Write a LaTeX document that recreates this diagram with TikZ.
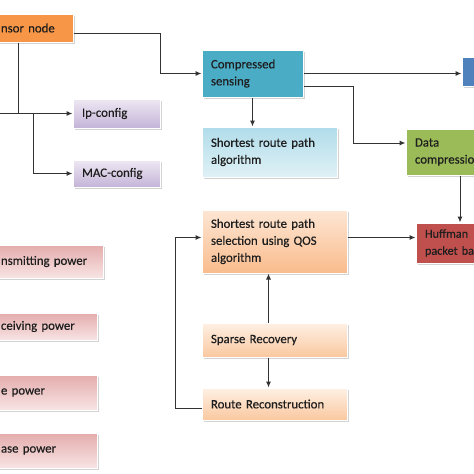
\documentclass[tikz,border=0pt]{standalone}
\usepackage{fontspec}
\setmainfont{Carlito}[FakeBold=0.4]
\usetikzlibrary{arrows.meta,shadows,calc}
\definecolor{txt}{HTML}{1E1E1E}
\definecolor{lnc}{HTML}{333333}
\definecolor{orng}{HTML}{F79646}
\definecolor{teal}{HTML}{4BACC6}
\definecolor{blu}{HTML}{4F81BD}
\definecolor{grn}{HTML}{9BBB59}
\definecolor{redd}{HTML}{C0504D}
\tikzset{
  box/.style={rectangle, inner xsep=9pt, inner ysep=2pt, align=left,
    font=\fontsize{12.8}{17}\selectfont, text=txt, draw=white, line width=1pt,
    drop shadow={shadow xshift=1.5pt, shadow yshift=-1.5pt, opacity=0.35, fill=gray}},
  bx/.style n args={3}{box, minimum width=#1pt, text width=#1pt-18pt, minimum height=#2pt, #3},
  conn/.style={draw=lnc, line width=1pt},
  arr/.style={conn, -{Latex[length=6pt,width=5pt]}},
}
\begin{document}
\begin{tikzpicture}[x=1pt,y=-1pt]
\useasboundingbox (0,0) rectangle (474,474);
% boxes
\node[bx={81}{28}{fill=orng}] (sensor) at (32.5,28) {nsor node};
\node[bx={101}{47}{fill=teal}] (cs) at (252.5,73.5) {Compressed\\sensing};
\node[bx={38}{29}{fill=blu}] (blue) at (481,71.5) {};
\node[bx={135}{50}{top color={rgb,255:red,176;green,220;blue,234}, bottom color={rgb,255:red,224;green,241;blue,246}}] (sp) at (269.5,152) {Shortest route path\\algorithm};
\node[bx={87}{29}{top color={rgb,255:red,238;green,232;blue,243}, bottom color={rgb,255:red,196;green,180;blue,216}}] (ip) at (116.5,113.5) {Ip-config};
\node[bx={87}{27}{top color={rgb,255:red,238;green,232;blue,243}, bottom color={rgb,255:red,196;green,180;blue,216}}] (mac) at (116.5,173.5) {MAC-config};
\node[bx={94}{46}{fill=grn}] (dc) at (453,152) {Data\\compressio};
\node[bx={84}{40}{fill=redd, inner xsep=7pt, font=\fontsize{12.2}{17}\selectfont}] (hf) at (458,243) {Huffman\\packet ba};
\node[bx={145}{63}{top color={rgb,255:red,253;green,230;blue,212}, bottom color={rgb,255:red,249;green,188;blue,140}}] (qos) at (274.5,241.5) {Shortest route path\\selection using QOS\\algorithm};
\node[bx={145}{34}{top color={rgb,255:red,254;green,240;blue,228}, bottom color={rgb,255:red,250;green,200;blue,160}}] (sr) at (274.5,340) {Sparse Recovery};
\node[bx={145}{32}{top color={rgb,255:red,254;green,240;blue,228}, bottom color={rgb,255:red,250;green,200;blue,160}}] (rr) at (274.5,404) {Route Reconstruction};
\node[bx={111}{33}{top color={rgb,255:red,228;green,172;blue,172}, bottom color={rgb,255:red,248;green,228;blue,228}}] (p1) at (47.5,261.5) {nsmitting power};
\node[bx={105}{27}{top color={rgb,255:red,228;green,172;blue,172}, bottom color={rgb,255:red,248;green,228;blue,228}}] (p2) at (44.5,326.5) {ceiving power};
\node[bx={105}{35}{top color={rgb,255:red,228;green,172;blue,172}, bottom color={rgb,255:red,248;green,228;blue,228}}] (p3) at (44.5,392.5) {e power};
\node[bx={105}{35}{top color={rgb,255:red,228;green,172;blue,172}, bottom color={rgb,255:red,248;green,228;blue,228}}] (p4) at (44.5,450.5) {ase power};
% helper coordinates
\coordinate (edge) at (0,0);
\coordinate (v1) at (18,0);
\coordinate (v2) at (33,0);
\coordinate (v3) at (175,0);
% connectors
\draw[arr] ([yshift=-5pt]sensor.east) -- ++(87,0) |- (cs.west);
\draw[arr] (cs.east) -- (cs.east -| blue.west);
\draw[arr] ([yshift=-13pt]cs.east) -- ++(50,0) |- ([yshift=9pt]dc.west);
\draw[arr] ([xshift=7pt]dc.south) -- ([xshift=7pt]dc.south |- hf.north);
\draw[arr] (cs.south) -- (cs.south |- sp.north);
\draw[conn] (sensor.south -| v1) -- (ip.west -| v1);
\draw[arr] (ip.west -| edge) -- (ip.west);
\draw[arr] (ip.west -| v2) |- (mac.west);
\draw[arr] ([yshift=4pt]qos.east) -- ([yshift=4pt]qos.east -| hf.west);
\draw[arr] ([yshift=-4pt]rr.west) -- ([yshift=-4pt]rr.west -| v3) -- ([yshift=4pt]qos.west -| v3) -- ([yshift=4pt]qos.west);
\draw[arr] ([xshift=-6pt]sr.north) -- ([xshift=-6pt]sr.north |- qos.south);
\draw[arr] ([xshift=-6pt]sr.south) -- ([xshift=-6pt]sr.south |- rr.north);
\end{tikzpicture}
\end{document}
